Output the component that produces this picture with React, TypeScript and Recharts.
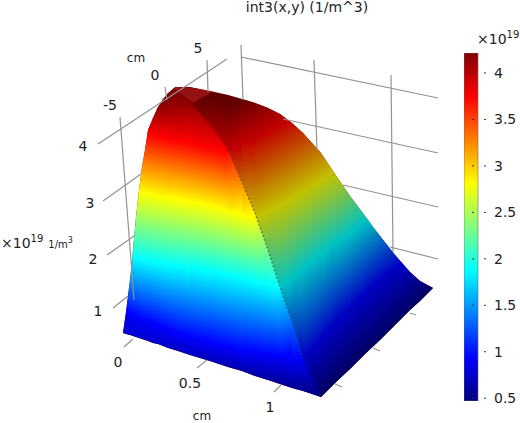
import { Area, Bar, BarChart, ComposedChart, Line, ReferenceLine, Scatter, XAxis, YAxis } from "recharts";

const FONT = "'DejaVu Sans', sans-serif";

// screen columns of the projected surface and the edges of the surface in each of them
const columnsX = [123, 126, 130, 133, 136, 139, 142, 145, 148, 153, 158, 163, 168, 175, 190, 210, 228, 242, 255, 268, 280, 292, 303, 312, 321, 335, 350, 365, 380, 395, 410, 420, 433];
const topEdge = [333, 312, 280, 250, 217, 190, 167, 150, 130, 118, 107, 99, 93, 87, 87, 91, 95, 99, 103, 108, 114, 123, 133, 143, 153, 174, 196, 216, 236, 255, 272, 281, 288];
const bottomEdge = [333, 334, 335, 336, 337, 338, 339, 340, 341, 343, 344, 346, 348, 350, 355, 361, 367, 371, 376, 380, 384, 388, 391, 394, 397, 383, 369, 354, 340, 325, 310, 301, 288];
const creaseEdge = [null, null, null, null, null, null, null, null, null, null, null, null, null, 87, 102, 125, 150, 182, 213, 250, 287, 321, 358, 378, 397, 383, 369, 354, 340, 325, 310, 301, 288];

const isoNavy = [370, 370, 370, 370, 370, 370, 370, 370, 370, 370, 370, 370, 370, 370, 372, 376, 380, 383, 386, 388, 391, 394, 396, 397, 398, 384, 370, 355, 341, 326, 311, 302, 289];
const isoBlue = [310, 311, 313, 315, 316, 317, 319, 320, 321, 323, 325, 327, 329, 332, 337, 342, 347, 350, 352, 354, 355, 356, 358, 350, 340, 322, 308, 294, 280, 268, 256, 248, 238];
const isoCyan = [252, 254, 256, 257, 258, 259, 260, 260, 261, 262, 263, 264, 265, 266, 268, 271, 275, 278, 281, 285, 288, 278, 268, 261, 254, 244, 233, 220, 208, 196, 184, 176, 166];
const isoYellow = [190, 190, 191, 191, 192, 192, 193, 193, 194, 195, 196, 197, 198, 199, 202, 206, 211, 215, 218, 211, 205, 199, 192, 187, 181, 173, 163, 153, 143, 133, 123, 117, 109];
const isoRed = [128, 129, 130, 130, 131, 132, 133, 133, 134, 135, 136, 137, 139, 140, 143, 148, 152, 145, 138, 131, 125, 118, 112, 107, 102, 94, 86, 78, 70, 62, 54, 49, 42];
const isoTop = [100, 100, 100, 101, 102, 103, 104, 104, 105, 104, 103, 101, 100, 98, 96, 100, 104, 98, 92, 85, 80, 74, 68, 63, 58, 50, 42, 34, 26, 18, 10, 5, 0];

const contours = [isoNavy, isoBlue, isoCyan, isoYellow, isoRed, isoTop];
const contourColors = ["#000080", "#0000ff", "#00ffff", "#ffff00", "#ff0000", "#800000"];

// small lighter facet at the peak
const peakFacetX = [175, 193, 205, 212];
const peakFacetTop = [87, 88, 90, 91];
const peakFacetLow = [89, 103, 96, 92];

// back walls and tick stubs of the 3D box: [x1, y1, x2, y2]
const boxLines = [
  [120, 117, 134, 300],
  [165, 87, 167, 100],
  [207, 60, 208, 92],
  [241, 45, 243, 100],
  [314, 60, 317, 150],
  [391, 75, 393, 252],
  [241, 57, 438, 98],
  [283, 119, 438, 153],
  [343, 185, 438, 207],
  [390, 247, 438, 259],
  [98, 144, 227, 59],
  [103, 201, 141, 174],
  [107, 255, 134, 236],
  [113, 308, 128, 296],
  [124, 347, 133, 339],
  [197, 368, 207, 360],
  [274, 392, 281, 385],
  [335, 384, 342, 387],
  [373, 348, 380, 351],
  [410, 313, 416, 315],
];

const plainLabels = [
  { x: 307, y: 12, text: "int3(x,y) (1/m^3)", size: 14 },
  { x: 136, y: 62, text: "cm", size: 12 },
  { x: 110, y: 110, text: "-5", size: 14 },
  { x: 155, y: 80, text: "0", size: 14 },
  { x: 198, y: 53, text: "5", size: 14 },
  { x: 83, y: 151, text: "4", size: 14 },
  { x: 90, y: 208, text: "3", size: 14 },
  { x: 93, y: 264, text: "2", size: 14 },
  { x: 98, y: 316, text: "1", size: 14 },
  { x: 118, y: 367, text: "0", size: 14 },
  { x: 190, y: 388, text: "0.5", size: 14 },
  { x: 270, y: 412, text: "1", size: 14 },
  { x: 202, y: 420, text: "cm", size: 12 },
];
const unitLabels = [
  { x: 1, y: 248, text: "×10", sup: "19" },
  { x: 477, y: 44, text: "×10", sup: "19" },
];

const colorbarTicks = [0.5, 1, 1.5, 2, 2.5, 3, 3.5, 4];
const colorbarRange = [0.47, 4.215];
const colorbarData = [{ name: "int3", range: colorbarRange }];

const rows = columnsX.map((x, i) => ({
  x,
  top: topEdge[i],
  bottom: bottomEdge[i],
  crease: creaseEdge[i],
}));

const clampY = (i: number, v: number) => Math.max(Math.min(v, bottomEdge[i]), topEdge[i]);

const quads: { id: string; from: string; to: string; x1: number; y1: number; x2: number; y2: number; data: any[] }[] = [];
// painted from the top band down, each band reaching 1px under the next one to hide seams
for (let band = contours.length - 2; band >= 0; band--) {
  const lo = contours[band];
  const hi = contours[band + 1];
  for (let i = 0; i < columnsX.length - 1; i++) {
    const empty = [i, i + 1].every((c) => clampY(c, lo[c]) === clampY(c, hi[c]));
    if (empty) continue;
    const xm = (columnsX[i] + columnsX[i + 1]) / 2;
    const dx = columnsX[i + 1] - columnsX[i];
    const loM = (lo[i] + lo[i + 1]) / 2;
    const hiM = (hi[i] + hi[i + 1]) / 2;
    const slope = ((lo[i + 1] - lo[i]) + (hi[i + 1] - hi[i])) / (2 * dx);
    const gap = loM - hiM;
    const k = gap / (1 + slope * slope);
    quads.push({
      id: `q${band}-${i}`,
      from: contourColors[band],
      to: contourColors[band + 1],
      x1: xm,
      y1: loM,
      x2: xm + slope * k,
      y2: loM - k,
      data: [i, i + 1].map((c) => ({
        x: columnsX[c],
        range: [clampY(c, lo[c] + 1), clampY(c, hi[c])],
      })),
    });
  }
}

function SurfaceLabel(props: any) {
  const { cx, cy, payload } = props;
  return (
    <text x={cx} y={cy} textAnchor="middle" fontFamily={FONT} fontSize={payload.size} fill="#222">
      {payload.text}
    </text>
  );
}

function UnitLabel(props: any) {
  const { cx, cy, payload } = props;
  const isAxis = payload.x < 100;
  return (
    <text x={cx} y={cy} fontFamily={FONT} fontSize={14} fill="#222">
      {payload.text}
      <tspan dy={-6} fontSize={10}>{payload.sup}</tspan>
      {isAxis && <tspan dx={5} dy={6} fontSize={10}>1/m</tspan>}
      {isAxis && <tspan dy={-5} fontSize={8}>3</tspan>}
    </text>
  );
}

function ColorbarTick(props: any) {
  const { x, y, payload } = props;
  return (
    <g>
      <line x1={x - 14} x2={x - 12} y1={y} y2={y} stroke="#333" />
      <line x1={x - 2} x2={x} y1={y} y2={y} stroke="#333" />
      <text x={x + 8} y={y + 5} fontFamily={FONT} fontSize={14} fill="#222">
        {payload.value}
      </text>
    </g>
  );
}

export default function App() {
  return (
    <div style={{ position: "absolute", left: 0, top: 0, width: 520, height: 423, background: "#fff" }}>
      <ComposedChart width={520} height={423} data={rows} margin={{ top: 0, right: 0, bottom: 0, left: 0 }}>
        <defs>
          {quads.map((q) => (
            <linearGradient key={q.id} id={q.id} gradientUnits="userSpaceOnUse" x1={q.x1} y1={q.y1} x2={q.x2} y2={q.y2}>
              <stop offset="0" stopColor={q.from} />
              <stop offset="1" stopColor={q.to} />
            </linearGradient>
          ))}
        </defs>
        <XAxis type="number" dataKey="x" domain={[0, 520]} hide />
        <YAxis type="number" domain={[0, 423]} reversed hide />
        {boxLines.map(([x1, y1, x2, y2], i) => (
          <ReferenceLine
            key={i}
            segment={[{ x: x1, y: y1 }, { x: x2, y: y2 }]}
            stroke="#929292"
            strokeWidth={1.2}
            ifOverflow="visible"
          />
        ))}
        {/* the part of the surface above the top contour stays plain dark red */}
        <Area
          data={rows.map((r) => ({ x: r.x, range: [r.top, r.bottom] }))}
          dataKey="range"
          type="linear"
          fill="#800000"
          fillOpacity={1}
          stroke="none"
          dot={false}
          activeDot={false}
          isAnimationActive={false}
        />
        {quads.map((q) => (
          <Area
            key={q.id}
            data={q.data}
            dataKey="range"
            type="linear"
            fill={`url(#${q.id})`}
            fillOpacity={1}
            stroke="none"
            dot={false}
            activeDot={false}
            isAnimationActive={false}
          />
        ))}
        <Area
          data={rows.filter((r) => r.crease !== null).map((r) => ({ x: r.x, range: [r.top, r.crease] }))}
          dataKey="range"
          type="linear"
          fill="#000"
          fillOpacity={0.24}
          stroke="none"
          dot={false}
          activeDot={false}
          isAnimationActive={false}
        />
        <Area
          data={peakFacetX.map((x, i) => ({ x, range: [peakFacetTop[i], peakFacetLow[i]] }))}
          dataKey="range"
          type="linear"
          fill="#c02020"
          fillOpacity={0.55}
          stroke="none"
          dot={false}
          activeDot={false}
          isAnimationActive={false}
        />
        <Line
          data={rows.filter((r) => r.crease !== null && r.x >= 228 && r.x <= 303)}
          dataKey="crease"
          type="linear"
          stroke="#444"
          strokeOpacity={0.6}
          strokeWidth={1.5}
          strokeDasharray="2 2"
          dot={false}
          activeDot={false}
          isAnimationActive={false}
        />
        <Scatter data={plainLabels} dataKey="y" shape={SurfaceLabel} isAnimationActive={false} />
        <Scatter data={unitLabels} dataKey="y" shape={UnitLabel} isAnimationActive={false} />
      </ComposedChart>
      <div style={{ position: "absolute", left: 464, top: 0 }}>
        <BarChart
          width={56}
          height={423}
          data={colorbarData}
          margin={{ top: 53, right: 0, bottom: 22, left: 0 }}
          barCategoryGap={0}
        >
          <defs>
            <linearGradient id="jet" x1="0" y1="0" x2="0" y2="1">
              <stop offset="0" stopColor="#800000" />
              <stop offset="0.125" stopColor="#ff0000" />
              <stop offset="0.375" stopColor="#ffff00" />
              <stop offset="0.625" stopColor="#00ffff" />
              <stop offset="0.875" stopColor="#0000ff" />
              <stop offset="1" stopColor="#000080" />
            </linearGradient>
          </defs>
          <XAxis dataKey="name" hide />
          <YAxis
            orientation="right"
            width={42}
            type="number"
            domain={colorbarRange}
            ticks={colorbarTicks}
            allowDataOverflow
            axisLine={false}
            tickLine={false}
            tick={ColorbarTick}
            interval={0}
          />
          <Bar dataKey="range" fill="url(#jet)" stroke="#6a6a6a" strokeOpacity={0.6} isAnimationActive={false} />
        </BarChart>
      </div>
    </div>
  );
}
